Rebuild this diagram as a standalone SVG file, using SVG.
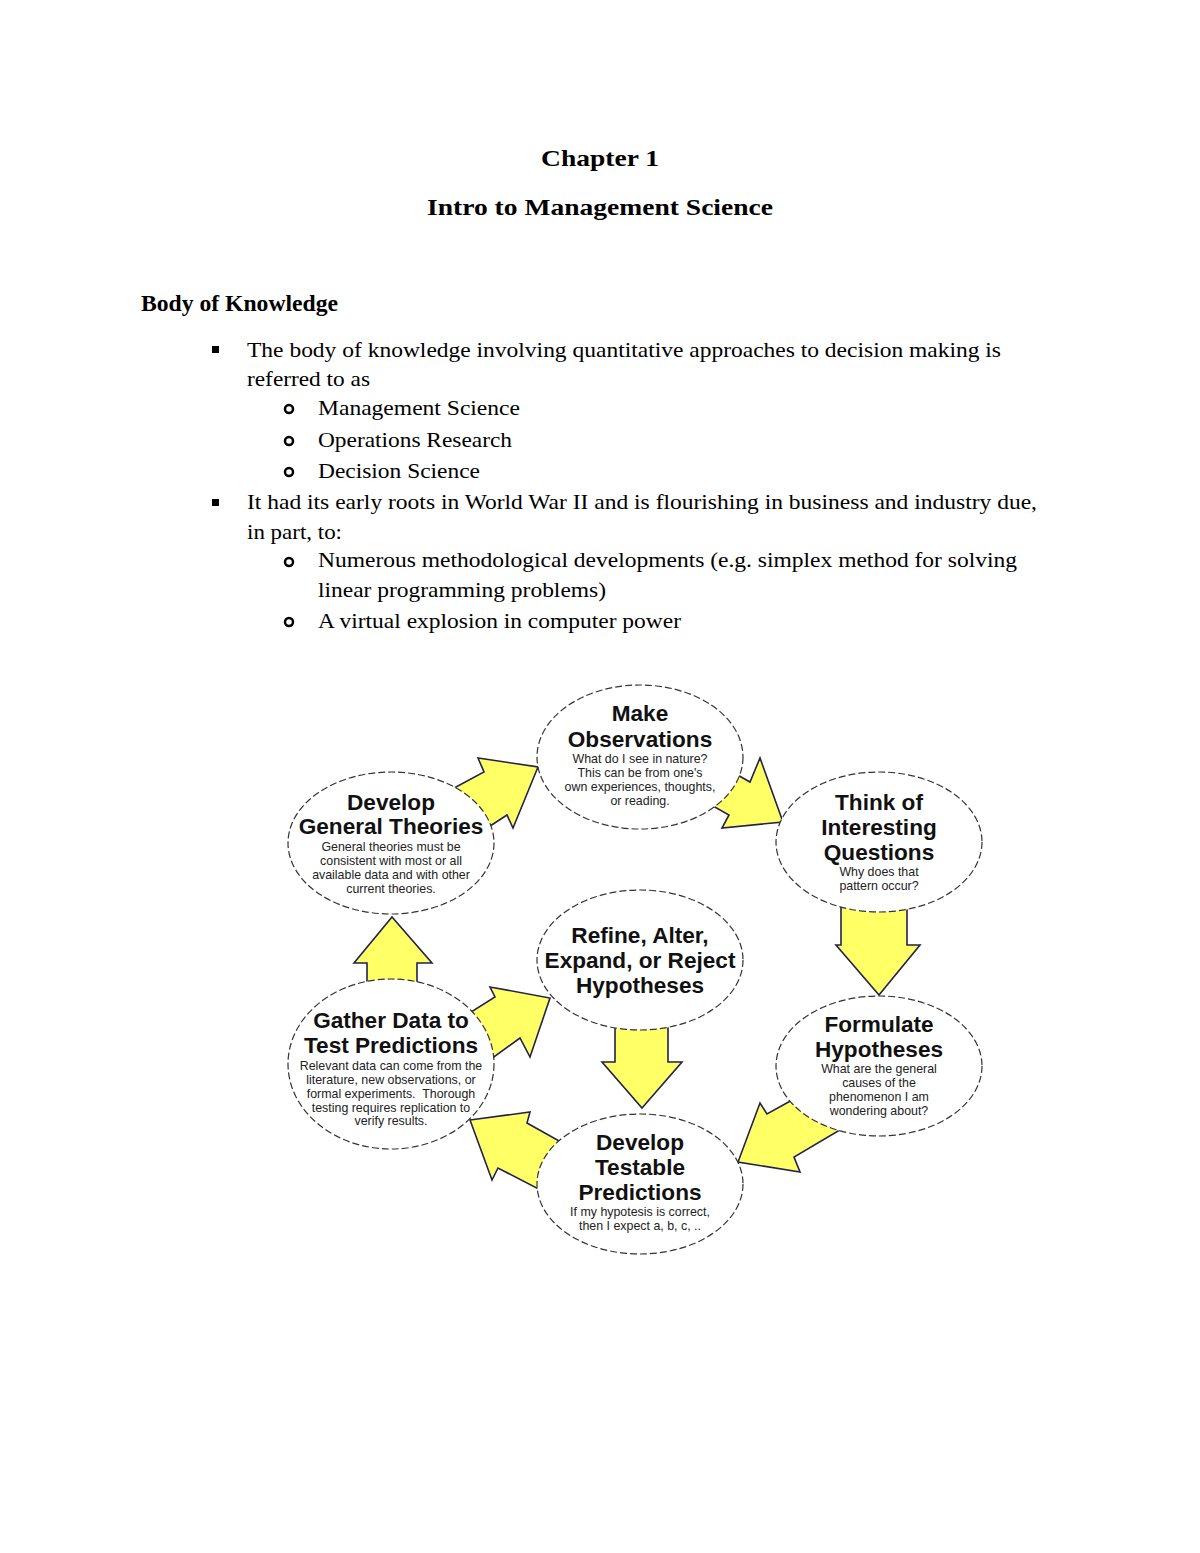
<svg xmlns="http://www.w3.org/2000/svg" width="1200" height="1553" viewBox="0 0 1200 1553">
<style>
.h{font-family:"Liberation Serif","Times New Roman",serif;font-weight:bold;font-size:24px;fill:#000}
.b{font-family:"Liberation Serif","Times New Roman",serif;font-size:22px;fill:#000}
.t{font-family:"Liberation Sans",Arial,sans-serif;font-weight:bold;font-size:22.6px;fill:#111;text-anchor:middle}
.s{font-family:"Liberation Sans",Arial,sans-serif;font-size:12.4px;fill:#222;text-anchor:middle}
.e{fill:#fff;stroke:#333;stroke-width:1.2;stroke-dasharray:7 3}
.a{fill:#ffff66;stroke:#22224a;stroke-width:1.6;stroke-linejoin:miter}
</style>
<rect width="1200" height="1553" fill="#fff"/>
<g id="heading">
<text class="h" x="600" y="166" text-anchor="middle" textLength="118" lengthAdjust="spacingAndGlyphs">Chapter 1</text>
<text class="h" x="600" y="215" text-anchor="middle" textLength="346" lengthAdjust="spacingAndGlyphs">Intro to Management Science</text>
<text class="h" x="141" y="311" font-size="21" textLength="197" lengthAdjust="spacingAndGlyphs">Body of Knowledge</text>
</g>
<g id="bullets">
<rect x="212" y="346" width="7" height="7" fill="#000"/>
<rect x="212" y="499" width="7" height="7" fill="#000"/>
<circle cx="289" cy="409" r="4" fill="none" stroke="#000" stroke-width="2.5"/>
<circle cx="289" cy="441" r="4" fill="none" stroke="#000" stroke-width="2.5"/>
<circle cx="289" cy="472" r="4" fill="none" stroke="#000" stroke-width="2.5"/>
<circle cx="289" cy="562" r="4" fill="none" stroke="#000" stroke-width="2.5"/>
<circle cx="289" cy="622" r="4" fill="none" stroke="#000" stroke-width="2.5"/>
<text class="b" x="247" y="357" textLength="754" lengthAdjust="spacingAndGlyphs">The body of knowledge involving quantitative approaches to decision making is</text>
<text class="b" x="247" y="386" textLength="123" lengthAdjust="spacingAndGlyphs">referred to as</text>
<text class="b" x="318" y="415" textLength="202" lengthAdjust="spacingAndGlyphs">Management Science</text>
<text class="b" x="318" y="447" textLength="194" lengthAdjust="spacingAndGlyphs">Operations Research</text>
<text class="b" x="318" y="478" textLength="162" lengthAdjust="spacingAndGlyphs">Decision Science</text>
<text class="b" x="247" y="509" textLength="790" lengthAdjust="spacingAndGlyphs">It had its early roots in World War II and is flourishing in business and industry due,</text>
<text class="b" x="247" y="539" textLength="95" lengthAdjust="spacingAndGlyphs">in part, to:</text>
<text class="b" x="318" y="567" textLength="699" lengthAdjust="spacingAndGlyphs">Numerous methodological developments (e.g. simplex method for solving</text>
<text class="b" x="318" y="597" textLength="288" lengthAdjust="spacingAndGlyphs">linear programming problems)</text>
<text class="b" x="318" y="628" textLength="363" lengthAdjust="spacingAndGlyphs">A virtual explosion in computer power</text>
</g>
<g id="connectors">
<polygon class="a" points="443,794 484,772 478,758 538,767 513,828 507,815 481,832"/>
<polygon class="a" points="727,769 750,782 760,758 783,822 722,828 729,815 699,798"/>
<polygon class="a" points="841,900 907,900 907,945 920,945 879,995 836,945 841,945"/>
<polygon class="a" points="803,1094 767,1114 760,1103 738,1162 800,1172 794,1157 850,1124"/>
<polygon class="a" points="470,1120 530,1112 527,1123 570,1147 550,1195 498,1168 492,1180"/>
<polygon class="a" points="367,990 367,963 354,963 392,917 432,963 417,963 417,990"/>
<polygon class="a" points="460,1019 495,997 490,987 550,998 530,1057 520,1038 480,1067"/>
<polygon class="a" points="615,1020 668,1020 668,1062 682,1062 642,1108 602,1062 615,1062"/>
</g>
<g id="observations">
<ellipse class="e" cx="640" cy="757" rx="103" ry="72"/>
<text class="t" x="640" y="721">Make</text>
<text class="t" x="640" y="747">Observations</text>
<text class="s" x="640" y="763">What do I see in nature?</text>
<text class="s" x="640" y="777">This can be from one's</text>
<text class="s" x="640" y="791">own experiences, thoughts,</text>
<text class="s" x="640" y="805">or reading.</text>
</g>
<g id="theories">
<ellipse class="e" cx="391" cy="843" rx="103" ry="71"/>
<text class="t" x="391" y="810">Develop</text>
<text class="t" x="391" y="834">General Theories</text>
<text class="s" x="391" y="851">General theories must be</text>
<text class="s" x="391" y="865">consistent with most or all</text>
<text class="s" x="391" y="879">available data and with other</text>
<text class="s" x="391" y="893">current theories.</text>
</g>
<g id="questions">
<ellipse class="e" cx="879" cy="842" rx="103" ry="70"/>
<text class="t" x="879" y="810">Think of</text>
<text class="t" x="879" y="835">Interesting</text>
<text class="t" x="879" y="860">Questions</text>
<text class="s" x="879" y="876">Why does that</text>
<text class="s" x="879" y="890">pattern occur?</text>
</g>
<g id="refine">
<ellipse class="e" cx="640" cy="960" rx="103" ry="70"/>
<text class="t" x="640" y="943">Refine, Alter,</text>
<text class="t" x="640" y="968">Expand, or Reject</text>
<text class="t" x="640" y="993">Hypotheses</text>
</g>
<g id="gather">
<ellipse class="e" cx="391" cy="1064" rx="103" ry="85"/>
<text class="t" x="391" y="1028">Gather Data to</text>
<text class="t" x="391" y="1053">Test Predictions</text>
<text class="s" x="391" y="1070">Relevant data can come from the</text>
<text class="s" x="391" y="1084">literature, new observations, or</text>
<text class="s" x="391" y="1098" xml:space="preserve">formal experiments.  Thorough</text>
<text class="s" x="391" y="1112">testing requires replication to</text>
<text class="s" x="391" y="1125">verify results.</text>
</g>
<g id="formulate">
<ellipse class="e" cx="879" cy="1066" rx="103" ry="70"/>
<text class="t" x="879" y="1032">Formulate</text>
<text class="t" x="879" y="1057">Hypotheses</text>
<text class="s" x="879" y="1073">What are the general</text>
<text class="s" x="879" y="1087">causes of the</text>
<text class="s" x="879" y="1101">phenomenon I am</text>
<text class="s" x="879" y="1115">wondering about?</text>
</g>
<g id="predictions">
<ellipse class="e" cx="640" cy="1184" rx="103" ry="70"/>
<text class="t" x="640" y="1150">Develop</text>
<text class="t" x="640" y="1175">Testable</text>
<text class="t" x="640" y="1200">Predictions</text>
<text class="s" x="640" y="1216">If my hypotesis is correct,</text>
<text class="s" x="640" y="1230">then I expect a, b, c, ..</text>
</g>
</svg>
